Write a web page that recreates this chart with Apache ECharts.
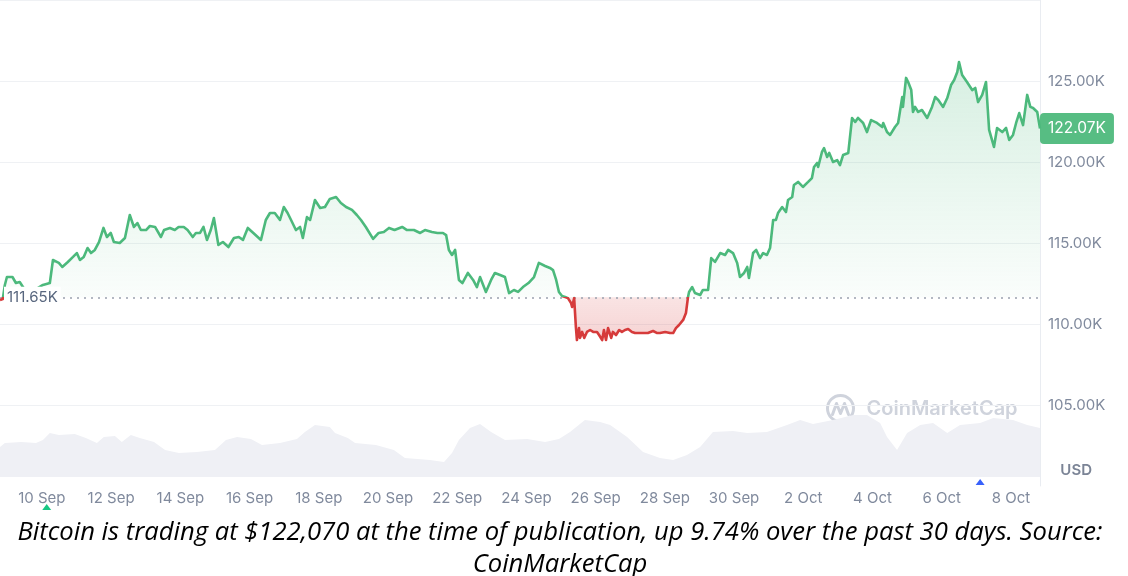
<!DOCTYPE html>
<html><head><meta charset="utf-8">
<script src="https://cdn.jsdelivr.net/npm/echarts@6/dist/echarts.min.js"></script>
<style>html,body{margin:0;padding:0;background:#fff}#c{width:1128px;height:576px}</style>
</head><body><div id="c"></div>
<script>
// x values are days since 10 Sep 00:00; prices in thousands of USD
const tickDays = [0, 2, 4, 6, 8, 10, 12, 14, 16, 18, 20, 22, 24, 26, 28];
const tickLabels = ['10 Sep','12 Sep','14 Sep','16 Sep','18 Sep','20 Sep','22 Sep','24 Sep','26 Sep','28 Sep','30 Sep','2 Oct','4 Oct','6 Oct','8 Oct'];
const baselinePrice = 111.65;
const lastPrice = 122.07;
const captionLines = ['Bitcoin is trading at $122,070 at the time of publication, up 9.74% over the past 30 days. Source:', 'CoinMarketCap'];
const eventDays = [0.14, 27.11];

const pricePoints = [
[-1.21,111.48],[-1.13,111.54],[-1.07,112.41],[-1.01,112.90],[-0.85,112.90],[-0.75,112.53],[-0.64,112.59],[-0.49,112.10],[-0.26,111.85],[-0.12,112.22],
[0.03,112.41],[0.23,112.53],[0.32,113.95],[0.49,113.77],[0.59,113.52],[0.75,113.83],[0.90,114.14],[1.01,114.38],[1.10,113.95],[1.21,114.14],
[1.32,114.69],[1.42,114.38],[1.53,114.57],[1.65,115.06],[1.78,115.93],[1.88,115.37],[1.99,115.62],[2.08,115.06],[2.25,115.00],[2.40,115.31],
[2.54,116.73],[2.66,115.99],[2.76,116.23],[2.86,115.80],[3.01,115.80],[3.12,116.05],[3.27,115.99],[3.44,115.37],[3.53,115.80],[3.70,115.93],
[3.84,115.80],[3.95,115.99],[4.10,115.99],[4.21,115.80],[4.36,115.37],[4.45,115.62],[4.57,115.62],[4.67,115.99],[4.77,115.19],[4.88,115.80],
[4.97,116.54],[5.10,114.88],[5.23,115.06],[5.39,114.75],[5.55,115.31],[5.69,115.37],[5.81,115.19],[5.95,115.93],[6.11,115.62],[6.33,115.19],
[6.47,116.42],[6.59,116.85],[6.73,116.85],[6.88,116.42],[6.99,117.22],[7.10,116.85],[7.20,116.42],[7.34,115.80],[7.46,115.99],[7.54,115.31],
[7.66,116.60],[7.75,116.42],[7.89,117.65],[8.04,117.16],[8.18,117.22],[8.32,117.72],[8.50,117.84],[8.64,117.47],[8.79,117.22],[8.96,117.04],
[9.10,116.73],[9.22,116.42],[9.36,115.99],[9.57,115.25],[9.73,115.62],[9.88,115.68],[10.03,115.93],[10.19,115.80],[10.41,115.99],[10.55,115.80],
[10.75,115.80],[10.93,115.62],[11.07,115.80],[11.27,115.68],[11.43,115.62],[11.59,115.62],[11.68,115.49],[11.76,114.57],[11.85,114.26],[11.94,114.57],
[12.05,112.72],[12.15,112.53],[12.31,113.15],[12.46,112.72],[12.57,112.28],[12.66,112.90],[12.83,111.98],[12.98,112.72],[13.09,113.15],[13.24,113.02],
[13.38,112.90],[13.50,111.91],[13.64,112.10],[13.76,111.98],[13.90,112.28],[14.06,112.53],[14.22,112.90],[14.36,113.77],[14.54,113.58],[14.68,113.46],
[14.77,113.33],[14.86,112.72],[14.94,111.98],[15.03,111.73],[15.12,111.67],[15.20,111.60],[15.29,111.30],[15.32,111.05],[15.38,111.60],[15.43,109.81],
[15.46,109.01],[15.52,109.75],[15.55,109.14],[15.61,109.51],[15.67,109.14],[15.75,109.51],[15.84,109.63],[15.93,109.51],[16.04,109.51],[16.10,109.32],
[16.19,109.01],[16.24,109.63],[16.30,109.01],[16.36,109.75],[16.45,109.14],[16.50,109.51],[16.59,109.32],[16.68,109.63],[16.76,109.51],[16.85,109.63],
[16.94,109.69],[17.05,109.51],[17.14,109.44],[17.23,109.44],[17.37,109.44],[17.51,109.44],[17.66,109.57],[17.78,109.44],[17.86,109.44],[18.01,109.51],
[18.15,109.44],[18.24,109.44],[18.32,109.75],[18.41,109.94],[18.53,110.25],[18.61,110.68],[18.67,111.67],[18.70,111.98],[18.79,112.28],[18.87,111.91],
[19.02,111.79],[19.10,112.10],[19.25,112.10],[19.34,114.07],[19.45,113.83],[19.60,114.38],[19.74,114.26],[19.83,114.57],[19.97,114.38],[20.09,113.77],
[20.17,112.90],[20.29,113.15],[20.38,113.52],[20.43,112.84],[20.55,114.38],[20.64,114.57],[20.75,114.07],[20.84,114.38],[20.95,114.26],[21.04,114.69],
[21.13,116.42],[21.21,116.42],[21.27,116.85],[21.39,117.22],[21.50,116.91],[21.56,117.65],[21.68,117.84],[21.73,118.58],[21.85,118.77],[21.99,118.46],
[22.14,118.77],[22.25,119.01],[22.31,119.69],[22.40,119.94],[22.43,119.69],[22.54,120.62],[22.60,120.86],[22.69,120.31],[22.75,120.56],[22.86,120.00],
[22.98,120.12],[23.06,119.81],[23.15,120.43],[23.30,120.56],[23.41,122.72],[23.50,122.47],[23.58,122.72],[23.73,122.41],[23.84,121.85],[23.96,122.59],
[24.13,122.41],[24.28,122.16],[24.31,122.41],[24.42,121.85],[24.51,121.67],[24.65,122.16],[24.74,122.41],[24.86,124.01],[24.88,123.40],[24.97,125.19],
[25.03,124.94],[25.12,124.44],[25.17,123.09],[25.23,123.40],[25.32,123.09],[25.43,123.21],[25.58,122.72],[25.72,123.40],[25.81,124.01],[25.90,123.83],
[26.04,123.40],[26.16,123.95],[26.27,124.75],[26.36,125.06],[26.45,125.56],[26.50,126.17],[26.59,125.37],[26.73,124.94],[26.88,124.44],[26.97,124.57],
[27.05,123.70],[27.17,124.14],[27.28,124.94],[27.37,121.98],[27.51,120.93],[27.60,122.10],[27.75,121.85],[27.86,122.10],[27.95,121.36],[28.06,121.67],
[28.15,122.41],[28.24,123.02],[28.35,122.28],[28.47,124.14],[28.56,123.40],[28.64,123.33],[28.76,123.09],[28.84,122.07]
];

// trading volume, billions of USD (relative)
const volumePoints = [
[-1.21,30],[-1.07,34],[-0.59,35],[-0.17,34],[0.03,37],[0.23,44],[0.49,42],[0.95,43],[1.27,39],[1.59,34],
[1.79,40],[2.11,41],[2.31,35],[2.57,42],[2.83,39],[3.24,35],[3.56,27],[3.96,24],[4.48,25],[5.00,27],
[5.32,37],[5.64,40],[6.04,38],[6.36,32],[6.88,34],[7.37,38],[7.60,45],[7.89,52],[8.32,50],[8.47,44],
[8.84,39],[9.05,34],[9.65,32],[10.17,27],[10.49,19],[11.21,17],[11.62,15],[11.85,24],[12.05,37],[12.37,49],
[12.66,53],[12.98,45],[13.38,37],[14.02,38],[14.54,35],[14.94,38],[15.26,45],[15.69,57],[16.13,55],[16.42,52],
[16.91,40],[17.37,25],[17.86,19],[18.24,17],[18.64,22],[19.02,30],[19.39,45],[19.97,46],[20.38,44],[20.95,45],
[21.53,52],[21.91,57],[22.28,53],[22.86,57],[23.44,62],[23.84,62],[24.22,54],[24.42,40],[24.71,27],[25.00,44],
[25.38,52],[25.75,54],[26.16,44],[26.53,52],[27.11,54],[27.49,59],[28.06,57],[28.47,52],[28.84,49]
];

const GREEN = '#4cb97c', RED = '#d63b3b';
const xMin = pricePoints[0][0], xMax = pricePoints[pricePoints.length - 1][0];
const greenArea = pricePoints.map(p => [p[0], Math.max(p[1], baselinePrice)]);
const redArea = pricePoints.map(p => [p[0], Math.min(p[1], baselinePrice)]);
const grad = (c0, c1) => new echarts.graphic.LinearGradient(0, 0, 0, 1, [{offset: 0, color: c0}, {offset: 1, color: c1}]);

const chart = echarts.init(document.getElementById('c'), null, {renderer: 'canvas'});
chart.setOption({
  animation: false,
  title: {
    text: captionLines.join('\n'), left: 555, top: 512, textAlign: 'center',
    textStyle: {fontFamily: 'Open Sans', fontStyle: 'italic', fontWeight: 'normal', fontSize: 25.6, lineHeight: 32, color: '#000'}
  },
  grid: [
    {left: 0, right: 88, top: 0, bottom: 90},
    {left: 0, right: 88, top: 400, bottom: 99}
  ],
  xAxis: [
    {type: 'value', gridIndex: 0, min: xMin, max: xMax, show: false},
    {type: 'value', gridIndex: 1, min: xMin, max: xMax,
     axisLine: {show: false}, axisTick: {show: false}, splitLine: {show: false},
     axisLabel: {customValues: tickDays, margin: 14, color: '#808a9d', fontSize: 15, fontFamily: 'Inter',
       formatter: v => { const i = tickDays.findIndex(d => Math.abs(d - v) < 1e-6); return i >= 0 ? tickLabels[i] : ''; }}}
  ],
  yAxis: [
    {type: 'value', gridIndex: 0, position: 'right', min: 100, max: 130, interval: 5,
     axisLine: {show: true, onZero: false, lineStyle: {color: '#e9ecf1', width: 1}}, axisTick: {show: false},
     splitLine: {show: true, showMinLine: false, lineStyle: {color: '#eff1f4', width: 1}},
     axisLabel: {showMinLabel: false, showMaxLabel: false, margin: 8, color: '#808a9d', fontSize: 15, fontFamily: 'Inter',
       formatter: v => v.toFixed(2) + 'K'}},
    {type: 'value', gridIndex: 1, min: 0, max: 77, show: false}
  ],
  visualMap: {
    type: 'piecewise', show: false, seriesIndex: 3, dimension: 1,
    pieces: [{gt: baselinePrice, lte: 200, color: GREEN}, {gte: 0, lte: baselinePrice, color: RED}]
  },
  graphic: [
    {type: 'text', right: 36, top: 463, z: 10, style: {text: 'USD', fill: '#7b8496', font: '600 15px Inter'}},
    {type: 'group', left: 825, top: 393, z: 10, children: [
      {type: 'circle', shape: {cx: 15, cy: 15, r: 13}, style: {stroke: '#cfd3dc', lineWidth: 3, fill: 'none'}},
      {type: 'polyline', shape: {points: [[7, 21], [11, 10], [15, 20], [19, 10], [23, 21]]}, style: {stroke: '#cfd3dc', lineWidth: 3, fill: 'none', lineJoin: 'round', lineCap: 'round'}},
      {type: 'text', x: 41, y: 15, style: {text: 'CoinMarketCap', fill: '#cfd3dc', font: '600 20px Inter', verticalAlign: 'middle'}}
    ]}
  ],
  series: [
    {type: 'line', name: 'Volume', xAxisIndex: 1, yAxisIndex: 1, data: volumePoints, symbol: 'none',
     lineStyle: {width: 0}, areaStyle: {color: '#eff0f5', opacity: 1}, silent: true,
     markPoint: {symbol: 'triangle', symbolSize: [9, 6], silent: true, label: {show: false},
       data: [
         {coord: [eventDays[0], 0], symbolOffset: [0, 30], itemStyle: {color: '#16c784'}},
         {coord: [eventDays[1], 0], symbolOffset: [0, 5], itemStyle: {color: '#3861fb'}}
       ]}},
    {type: 'line', name: 'above', data: greenArea, symbol: 'none', lineStyle: {width: 0}, silent: true,
     areaStyle: {origin: baselinePrice, color: grad('rgba(76,185,124,0.32)', 'rgba(76,185,124,0.04)')}},
    {type: 'line', name: 'below', data: redArea, symbol: 'none', lineStyle: {width: 0}, silent: true,
     areaStyle: {origin: baselinePrice, color: grad('rgba(214,59,59,0.2)', 'rgba(214,59,59,0.32)')}},
    {type: 'line', name: 'BTC', data: pricePoints, symbol: 'none', z: 5,
     lineStyle: {width: 2.6, join: 'round'},
     markLine: {symbol: ['none', 'none'], silent: true, animation: false, z: 4,
       data: [
         {yAxis: baselinePrice, lineStyle: {type: [2, 5], color: '#9aa1af', width: 1.5}, label: {show: false}},
         {yAxis: lastPrice, lineStyle: {color: 'rgba(0,0,0,0)', width: 0}, label: {show: true, position: 'end', distance: 0,
           formatter: lastPrice.toFixed(2) + 'K', color: '#fff', backgroundColor: '#57bd83', padding: [8, 8, 7, 8],
           borderRadius: 4, fontSize: 15.5, fontFamily: 'Inter'}}
       ]},
     markPoint: {symbol: 'circle', symbolSize: 0, silent: true, z: 20,
       data: [{coord: [xMin, baselinePrice], label: {show: true, position: 'right', distance: 4,
         formatter: baselinePrice.toFixed(2) + 'K', color: '#58667e', backgroundColor: '#fff', padding: [3, 3],
         fontSize: 15, fontFamily: 'Inter'}}]}}
  ]
});
</script></body></html>
